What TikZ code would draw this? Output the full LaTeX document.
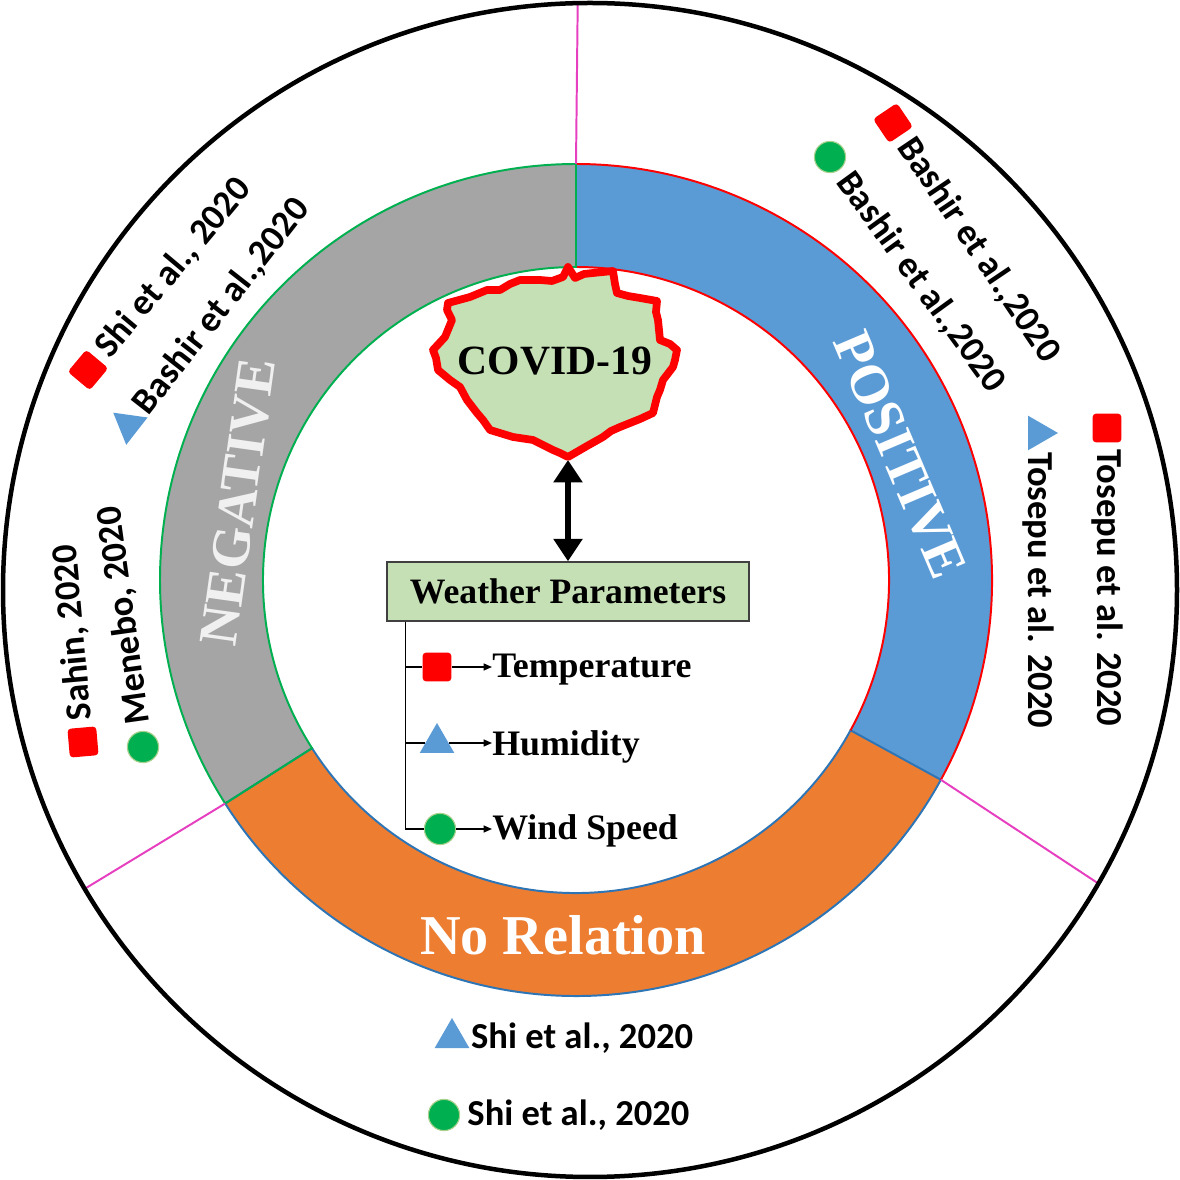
\documentclass[tikz,border=0pt]{standalone}
\usepackage{fontspec}
\setmainfont{Liberation Serif}
\newfontfamily\calib{Carlito}
\usetikzlibrary{calc,positioning,arrows.meta,shapes.geometric}
\definecolor{negfill}{HTML}{A5A5A5}
\definecolor{posfill}{HTML}{5B9BD5}
\definecolor{norelfill}{HTML}{ED7D31}
\definecolor{greenline}{HTML}{00B050}
\definecolor{redline}{HTML}{FF0000}
\definecolor{blueline}{HTML}{2E75B6}
\definecolor{cutpink}{HTML}{E63FC0}
\definecolor{cloudfill}{HTML}{C5E0B4}
\definecolor{rimgreen}{HTML}{A9D18E}

\begin{document}
\begin{tikzpicture}[x=0.025cm,y=0.025cm,
  bandtxt/.style={font=\fontsize{39}{44}\selectfont\bfseries,text=white,inner sep=0pt},
  sqmark/.style={rectangle,rounded corners=2.5pt,fill=redline,minimum size=0.72cm,inner sep=0pt},
  trimark/.style={regular polygon,regular polygon sides=3,fill=posfill,minimum size=1.0cm,inner sep=0pt},
  cirmark/.style={circle,fill=greenline,draw=rimgreen,line width=0.8pt,minimum size=0.78cm,inner sep=0pt},
  cite/.style={font=\calib\bfseries\fontsize{26}{30}\selectfont,inner xsep=5pt,inner ysep=0pt,anchor=west},
  parm/.style={font=\fontsize{25.5}{30}\selectfont\bfseries,inner sep=0pt,anchor=base west},
  wbox/.style={draw=black!75,line width=1pt,fill=cloudfill,minimum width=9.05cm,minimum height=1.475cm,
    font=\fontsize{25.4}{30}\selectfont\bfseries,inner sep=0pt},
  cutline/.style={cutpink,line width=1.4pt},
  thinline/.style={black,line width=1pt},
  smallarrow/.style={black,line width=1pt,-{Triangle[length=6pt,width=5pt]}},
  dblarrow/.style={black,line width=4.5pt,{Triangle[length=16pt,width=20pt]}-{Triangle[length=16pt,width=20pt]}}]
  \useasboundingbox (0,0) rectangle (1180,1180);
  \coordinate (C) at (576,600);
  \coordinate (O) at (590,590);
  % ring ends
  \coordinate (cutT) at ($(C)+(90:416)$);
  \coordinate (cutL) at ($(C)+(212.5:416)$);
  \coordinate (cutR) at ($(C)+(-28.7:416)$);
  \coordinate (endT) at ($(O)+(91.2:587)$);
  \coordinate (endL) at ($(O)+(210.6:587)$);
  \coordinate (endR) at ($(O)+(-30:587)$);
  % ring segments
  \fill[negfill] (cutT) arc[start angle=90,end angle=212.5,radius=416]
    -- ($(C)+(212.5:313)$) arc[start angle=212.5,end angle=90,radius=313] -- cycle;
  \fill[posfill] (cutR) arc[start angle=-28.7,end angle=90,radius=416]
    -- ($(C)+(90:313)$) arc[start angle=90,end angle=-28.7,radius=313] -- cycle;
  \path[fill=norelfill,draw=blueline,line width=1.4pt] (cutL) arc[start angle=212.5,end angle=331.3,radius=416]
    -- ($(C)+(331.3:313)$) arc[start angle=331.3,end angle=212.5,radius=313] -- cycle;
  \draw[redline,line width=1.4pt] (cutR) arc[start angle=-28.7,end angle=90,radius=416];
  \draw[redline,line width=1.4pt] ($(C)+(-28.7:313)$) arc[start angle=-28.7,end angle=90,radius=313];
  \draw[greenline,line width=1.4pt] (cutT) arc[start angle=90,end angle=212.5,radius=416]
    -- ($(C)+(212.5:313)$) arc[start angle=212.5,end angle=90,radius=313] -- cycle;
  % cuts and outer circle
  \draw[cutline] (cutT) -- (endT);
  \draw[cutline] (cutL) -- (endL);
  \draw[cutline] (cutR) -- (endR);
  \draw[line width=3.2pt] (O) circle[radius=587];
  % band labels
  \node[bandtxt,text=white!94!black,rotate=82] (neg) at (238,678) {NEGATIVE};
  \node[bandtxt,rotate=-67] (pos) at (900,725) {POSITIVE};
  \node[bandtxt,font=\fontsize{40}{46}\selectfont\bfseries] (norel) at (563,245) {No Relation};
  % cloud
  \draw[redline,line width=5.5pt,line join=round,fill=cloudfill] (568,913) -- (575,902) -- (584,906) -- (593,907)
    -- (613,909) -- (615,896) -- (617,887) -- (628,884) -- (640,882) -- (657,879) -- (656,868) -- (658,860)
    -- (660,840) -- (670,836) -- (677,830) -- (675,820) -- (673,813) -- (663,800) -- (660,790) -- (657,783)
    -- (653,767) -- (640,761) -- (620,753) -- (611,749) -- (603,743) -- (587,734) -- (568,723) -- (560,727)
    -- (553,730) -- (533,740) -- (513,743) -- (490,750) -- (483,760) -- (477,767) -- (467,780) -- (460,793)
    -- (450,800) -- (438,810) -- (436,822) -- (433,830) -- (445,843) -- (452,860) -- (447,870) -- (448,877)
    -- (470,883) -- (487,890) -- (500,890) -- (510,896) -- (520,900) -- (540,900) -- (552,899) -- (563,903) -- cycle;
  \node[font=\fontsize{29.6}{34}\selectfont\bfseries,inner sep=0pt] (covid) at (555,819) {COVID-19};
  % weather parameters
  \node[wbox] (wp) at (568,588.5) {Weather Parameters};
  \coordinate (cloudbot) at (568,720);
  \draw[dblarrow] (cloudbot) -- (wp.north);
  \coordinate (trunk) at ([xshift=0.475cm]wp.south west);
  \node[sqmark] (mt) at (437,513) {};
  \node[trimark] (mh) at (437,437) {};
  \node[cirmark] (mw) at (440,351) {};
  \node[parm] (tt) at (492,502) {Temperature};
  \node[parm] (th) at (492,424) {Humidity};
  \node[parm] (tw) at (492,340) {Wind Speed};
  \draw[thinline] (trunk) -- (trunk |- mw);
  \foreach \m/\t in {mt/tt,mh/th,mw/tw} {
    \draw[thinline] (trunk |- \m) -- (\m);
    \draw[smallarrow] (\m) -- (\m -| \t.west);
  }
  % studies
  \node[sqmark,rotate=50] (s1) at (88,810) {};
  \node[cite,rotate=50] (s1t) at (s1.east) {Shi et al., 2020};
  \node[trimark,rotate=52] (b1) at (129,755) {};
  \node[cite,rotate=52] (b1t) at (b1.east) {Bashir et al.,2020};
  \node[sqmark,rotate=95] (sa) at (83,438) {};
  \node[cite,rotate=95] (sat) at (sa.east) {Sahin, 2020};
  \node[cirmark,rotate=98] (me) at (143,433) {};
  \node[cite,rotate=98] (met) at (me.east) {Menebo, 2020};
  \node[sqmark,rotate=-56] (b2) at (893,1057) {};
  \node[cite,rotate=-56] (b2t) at (b2.east) {Bashir et al.,2020};
  \node[cirmark,rotate=-54] (b3) at (830,1023) {};
  \node[cite,rotate=-54] (b3t) at (b3.east) {Bashir et al.,2020};
  \node[sqmark,rotate=-90] (t1) at (1107,752) {};
  \node[cite,rotate=-90] (t1t) at (t1.east) {Tosepu et al. 2020};
  \node[trimark,rotate=-90] (t2) at (1038,747) {};
  \node[cite,rotate=-90] (t2t) at (t2.east) {Tosepu et al. 2020};
  \node[trimark] (s2) at (452,142) {};
  \node[cite] (s2t) at (s2.east) {Shi et al., 2020};
  \node[cirmark] (s3) at (444,65) {};
  \node[cite] (s3t) at (s3.east) {Shi et al., 2020};
\end{tikzpicture}
\end{document}
